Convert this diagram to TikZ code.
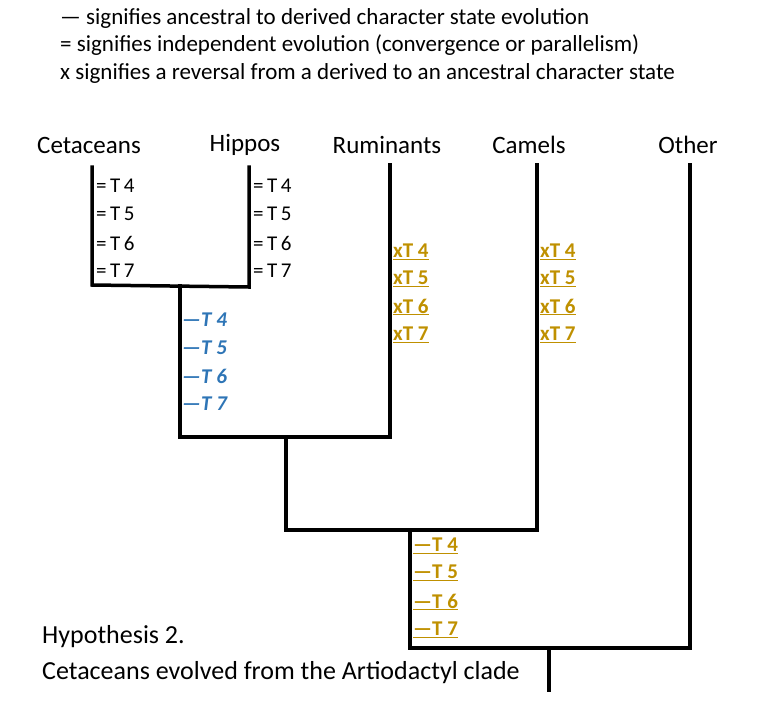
\documentclass[tikz,border=0pt]{standalone}
\usepackage{fontspec}
\setmainfont{Carlito}
\definecolor{gold}{HTML}{BF9000}
\definecolor{blu}{HTML}{2E75B6}
\begin{document}
\begin{tikzpicture}[x=1pt,y=-1pt,
  br/.style={line width=3.5pt,line cap=rect},
  lab/.style={anchor=west,inner sep=0pt,font=\fontsize{21}{24}\selectfont},
  eq/.style={lab},
  bl/.style={lab,text=blu,font=\fontsize{21}{24}\selectfont\bfseries\itshape},
  gd/.style={lab,text=gold,font=\fontsize{21}{24}\selectfont\bfseries},
  taxon/.style={inner sep=0pt,font=\fontsize{25}{28}\selectfont},
  hdr/.style={anchor=west,inner sep=0pt,font=\fontsize{23}{26}\selectfont}]
\useasboundingbox (0,0) rectangle (763,724);
\node[hdr] (h1) at (60,18) {— signifies ancestral to derived character state evolution};
\node[hdr] (h2) at (60,45) {= signifies independent evolution (convergence or parallelism)};
\node[hdr] (h3) at (60,73) {x signifies a reversal from a derived to an ancestral character state};
\node[taxon] (ce) at (89,145) {Cetaceans};
\node[taxon] (hi) at (245,145) {Hippos};
\node[taxon] (ru) at (387,145) {Ruminants};
\node[taxon] (ca) at (529,145) {Camels};
\node[taxon] (ot) at (688,145) {Other};
% tree
\coordinate (a1) at (92,167); \coordinate (a2) at (92,285);
\coordinate (b1) at (249,167); \coordinate (b2) at (249,287);
\coordinate (c1) at (180,286); \coordinate (c2) at (180,437);
\coordinate (d1) at (390,165); \coordinate (d2) at (390,437);
\coordinate (e1) at (286,437); \coordinate (e2) at (286,530);
\coordinate (f1) at (537,165); \coordinate (f2) at (537,530);
\coordinate (g1) at (410,530); \coordinate (g2) at (410,648);
\coordinate (k1) at (690,165); \coordinate (k2) at (690,648);
\coordinate (r1) at (549,648); \coordinate (r2) at (549,690);
\draw[br] (a1) -- (a2) -- (b2) -- (b1);
\draw[br] (c1) -- (c2) -- (d2) -- (d1);
\draw[br] (e1) -- (e2) -- (f2) -- (f1);
\draw[br] (g1) -- (g2) -- (k2) -- (k1);
\draw[br] (r1) -- (r2);
% labels
\foreach \i/\y in {4/186,5/214,6/243,7/271}{
  \node[eq] (ce\i) at (96,\y) {=\,T\,\i};
  \node[eq] (hi\i) at (253,\y) {=\,T\,\i};
}
\foreach \i/\y in {4/320,5/348,6/376,7/404}{
  \node[bl] (bl\i) at (182,\y) {—T \i};
}
\foreach \i/\y in {4/252,5/279,6/307,7/335}{
  \node[gd] (ru\i) at (393,\y) {\underline{xT \i}};
  \node[gd] (ca\i) at (540,\y) {\underline{xT \i}};
}
\foreach \i/\y in {4/546,5/573,6/602,7/630}{
  \node[gd] (gd\i) at (413,\y) {\underline{—T \i}};
}
\node[hdr,font=\fontsize{26}{28}\selectfont] (hy) at (42,637) {Hypothesis 2.};
\node[hdr,font=\fontsize{26}{28}\selectfont] (hy2) at (42,673) {Cetaceans evolved from the Artiodactyl clade};
\end{tikzpicture}
\end{document}
